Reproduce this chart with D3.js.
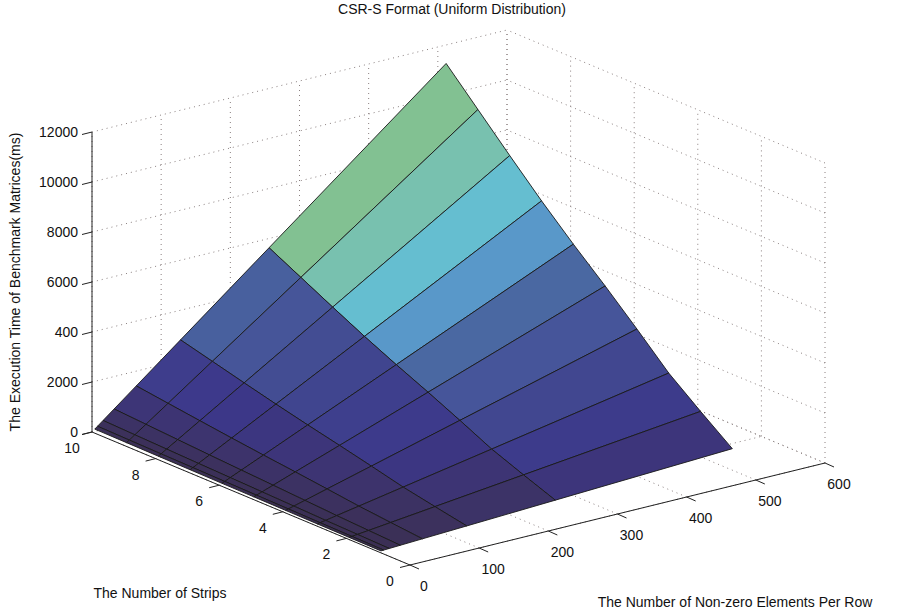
<!DOCTYPE html>
<html>
<head>
<meta charset="utf-8">
<script src="https://cdn.jsdelivr.net/npm/d3@7"></script>
<style>
  body { margin: 0; background: #fff; }
  text { font-family: "Liberation Sans", Arial, sans-serif; fill: #111; }
</style>
</head>
<body>
<div id="chart"></div>
<script>
// ---- data ----
const nonZero = [4, 8, 16, 32, 64, 128, 256, 512];
const strips = [1, 2, 3, 4, 5, 6, 7, 8, 9, 10];
// execution time (ms), one row per nonZero value, columns = strips
const execTime = [
  [5, 12, 20, 30, 39, 48, 58, 68, 78, 88],
  [10, 25, 41, 60, 78, 96, 115, 135, 155, 176],
  [20, 50, 81, 120, 157, 193, 230, 270, 311, 352],
  [40, 100, 163, 240, 314, 385, 460, 540, 622, 704],
  [80, 200, 325, 479, 628, 770, 920, 1080, 1244, 1408],
  [160, 400, 650, 958, 1255, 1540, 1840, 2160, 2488, 2815],
  [320, 800, 1300, 1915, 2510, 3080, 3680, 4320, 4975, 5630],
  [640, 1600, 2600, 3830, 5020, 6160, 7360, 8640, 9950, 11260]
];
const nzTicks = [0, 100, 200, 300, 400, 500, 600];
const stripTicks = [0, 2, 4, 6, 8, 10];
const zTicks = [0, 2000, 4000, 6000, 8000, 10000, 12000];
const zTickLabels = ["0", "2000", "400", "6000", "8000", "10000", "12000"];

const W = 903, H = 610;
const svg = d3.select("#chart").append("svg").attr("width", W).attr("height", H);

// ---- oblique projection built from linear scales ----
const origin = [410, 565];
const nzX = d3.scaleLinear().domain([0, 600]).range([0, 415]);
const nzY = d3.scaleLinear().domain([0, 600]).range([0, -102]);
const sX = d3.scaleLinear().domain([0, 10]).range([0, -318]);
const sY = d3.scaleLinear().domain([0, 10]).range([0, -133]);
const zY = d3.scaleLinear().domain([0, 12000]).range([0, -300]);
function proj(nz, s, z) {
  return [origin[0] + nzX(nz) + sX(s), origin[1] + nzY(nz) + sY(s) + zY(z)];
}

const color = d3.scaleLinear()
  .domain([0, 0.1, 0.2, 0.35, 0.45, 0.55, 0.66, 0.77, 0.88, 1.0])
  .range(["#3b2f52", "#3d3470", "#3c378a", "#414890", "#46569a", "#4a69a2",
          "#5a9bcb", "#65bfd0", "#78c1b0", "#82c192"]);
const zMax = d3.max(execTime.flat());

// ---- dotted grid on back walls and floor ----
const grid = svg.append("g").attr("stroke", "#8a7f7f").attr("stroke-width", 1)
  .attr("stroke-dasharray", "1,4").attr("fill", "none");
function seg(g, a, b) {
  g.append("line").attr("x1", a[0]).attr("y1", a[1]).attr("x2", b[0]).attr("y2", b[1]);
}
// wall s = 10
nzTicks.forEach(n => seg(grid, proj(n, 10, 0), proj(n, 10, 12000)));
zTicks.forEach(z => seg(grid, proj(0, 10, z), proj(600, 10, z)));
// wall nz = 600
stripTicks.forEach(s => seg(grid, proj(600, s, 0), proj(600, s, 12000)));
zTicks.forEach(z => seg(grid, proj(600, 0, z), proj(600, 10, z)));
// floor
nzTicks.forEach(n => seg(grid, proj(n, 0, 0), proj(n, 10, 0)));
stripTicks.forEach(s => seg(grid, proj(0, s, 0), proj(600, s, 0)));

// ---- surface faces, far first ----
const faces = [];
for (let i = 0; i < nonZero.length - 1; i++) {
  for (let j = 0; j < strips.length - 1; j++) {
    const c = [[i, j], [i + 1, j], [i + 1, j + 1], [i, j + 1]];
    faces.push({
      pts: c.map(([a, b]) => proj(nonZero[a], strips[b], execTime[a][b])),
      val: d3.max(c, ([a, b]) => execTime[a][b]),
      depth: nonZero[i] / 600 + strips[j] / 10
    });
  }
}
faces.sort((a, b) => b.depth - a.depth);
svg.append("g").selectAll("path").data(faces).join("path")
  .attr("d", d => "M" + d.pts.join("L") + "Z")
  .attr("fill", d => color(d.val / zMax))
  .attr("stroke", "#1a1a1a").attr("stroke-width", 0.9).attr("stroke-linejoin", "round");

// ---- axes ----
const ax = svg.append("g").attr("stroke", "#222").attr("stroke-width", 1).attr("fill", "none");
seg(ax, proj(0, 10, 0), proj(0, 10, 12000));
seg(ax, proj(0, 10, 0), proj(0, 0, 0));
seg(ax, proj(0, 0, 0), proj(600, 0, 0));
const labels = svg.append("g").attr("font-size", 14);

zTicks.forEach((z, k) => {
  const p = proj(0, 10, z);
  seg(ax, p, [p[0] - 10, p[1] + 2.5]);
  labels.append("text").attr("x", p[0] - 14).attr("y", p[1] + 5)
    .attr("text-anchor", "end").text(zTickLabels[k]);
});
stripTicks.forEach(s => {
  const p = proj(0, s, 0);
  seg(ax, p, [p[0] - 10, p[1] + 2.5]);
  labels.append("text").attr("x", p[0] - 20).attr("y", p[1] + 21)
    .attr("text-anchor", "middle").text(s);
});
nzTicks.forEach(n => {
  const p = proj(n, 0, 0);
  seg(ax, p, [p[0] + 9, p[1] + 4]);
  labels.append("text").attr("x", p[0] + 14).attr("y", p[1] + 26)
    .attr("text-anchor", "middle").text(n);
});

// ---- titles ----
svg.append("text").attr("x", 452).attr("y", 14).attr("text-anchor", "middle")
  .attr("font-size", 14).text("CSR-S Format (Uniform Distribution)");
svg.append("text").attr("transform", "translate(20,282) rotate(-90)")
  .attr("text-anchor", "middle").attr("font-size", 14)
  .text("The Execution Time of Benchmark Matrices(ms)");
svg.append("text").attr("x", 160).attr("y", 598).attr("text-anchor", "middle")
  .attr("font-size", 14).text("The Number of Strips");
svg.append("text").attr("x", 735).attr("y", 607).attr("text-anchor", "middle")
  .attr("font-size", 14).text("The Number of Non-zero Elements Per Row");
</script>
</body>
</html>
